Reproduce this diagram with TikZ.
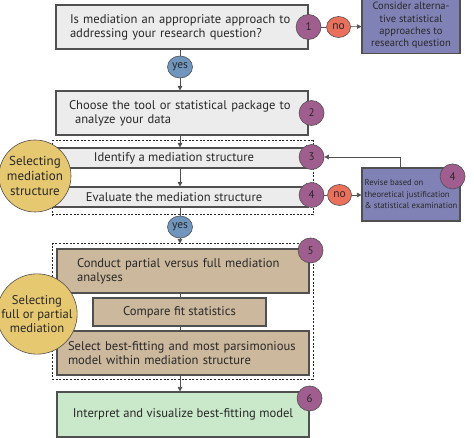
\documentclass[tikz,border=0pt]{standalone}
\usepackage{fontspec}
\setmainfont{PT Sans}
\usetikzlibrary{positioning, arrows.meta, shapes.geometric, fit}

\definecolor{linegray}{RGB}{80,80,80}
\definecolor{inkgray}{RGB}{40,40,40}
\definecolor{boxgray}{RGB}{236,236,236}
\definecolor{boxtan}{RGB}{204,184,156}
\definecolor{boxgreen}{RGB}{202,232,202}
\definecolor{numpurple}{RGB}{160,94,142}
\definecolor{noorange}{RGB}{234,112,92}
\definecolor{yesblue}{RGB}{112,150,190}
\definecolor{altblue}{RGB}{128,130,182}
\definecolor{phaseyellow}{RGB}{230,200,112}

\begin{document}
\begin{tikzpicture}[x=1pt, y=-1pt, >={Triangle[length=4.5pt,width=4.5pt]}, semithick,
    font=\fontsize{12.6}{14}\selectfont, text=inkgray, draw=linegray,
    stepbox/.style={draw=linegray, fill=boxgray, line width=1.1pt, minimum height=44pt, inner ysep=0pt},
    tanbox/.style={stepbox, fill=boxtan},
    numdot/.style={circle, draw=linegray, fill=numpurple, minimum size=25pt, inner sep=0pt, font=\fontsize{11}{12}\selectfont},
    noblob/.style={ellipse, draw=linegray, fill=noorange, minimum width=24pt, minimum height=21pt, inner sep=0pt, font=\fontsize{11.5}{12}\selectfont},
    yesblob/.style={ellipse, draw=linegray, fill=yesblue, minimum width=25pt, minimum height=22pt, inner sep=0pt, font=\fontsize{11.5}{12}\selectfont},
    phase/.style={circle, draw=linegray, fill=phaseyellow, minimum size=72pt, inner sep=0pt, align=center},
    altbox/.style={draw=linegray, fill=altblue, line width=1.1pt, font=\fontsize{10.5}{12.3}\selectfont},
    group/.style={draw=inkgray, line width=1pt, dash pattern=on 2pt off 1.6pt, inner sep=0pt}]
    \useasboundingbox (0,0) rectangle (474,438);

    % Dashed groups behind the steps
    \node[group, fit={(52,141) (313,215)}] (grp1) {};
    \node[group, fit={(52,244) (313,379)}] (grp2) {};

    % Question and the way out
    \node[stepbox, text width=224pt, inner xsep=14pt, align=left] (ask) at (182,27)
        {Is mediation an appropriate approach to\\addressing your research question?};
    \node[altbox, minimum width=98pt, minimum height=56pt, inner sep=0pt, align=center] (consider) at (411,25.5)
        {Consider alterna-\\tive statistical\\approaches to\\research question};
    \node[yesblob] (yes1) at (180,67) {yes};

    % Tool choice
    \node[stepbox, text width=226pt, inner xsep=13pt, align=left] (choose) at (182,113)
        {Choose the tool or statistical package to\\\hspace*{6pt}analyze your data};

    % Selecting mediation structure
    \node[stepbox, minimum width=268pt, minimum height=20pt] (identify) at (174,158)
        {Identify a mediation structure};
    \node[stepbox, minimum width=268pt, minimum height=20pt] (evaluate) at (174,197)
        {Evaluate the mediation structure};
    \node[altbox, minimum width=98pt, inner xsep=1pt, minimum height=53pt, align=left,
        font=\fontsize{8.6}{11.5}\selectfont] (revise) at (411,194.5)
        {Revise based on\\theoretical justification\\\& statistical examination};
    \node[yesblob] (yes2) at (180,227) {yes};

    % Selecting full or partial mediation
    \node[tanbox, text width=212pt, inner xsep=20pt, align=left] (conduct) at (183,271)
        {Conduct partial versus full mediation\\analyses};
    \node[tanbox, minimum width=173pt, minimum height=28pt] (compare) at (179.5,312)
        {Compare fit statistics};
    \node[tanbox, text width=230pt, inner xsep=11pt, align=left] (select) at (183,353)
        {Select best-fitting and most parsimonious\\model within mediation structure};

    % Interpretation
    \node[stepbox, fill=boxgreen, minimum width=252pt, minimum height=45pt] (interpret) at (183,414.5)
        {Interpret and visualize best-fitting model};

    % Phase labels
    \node[phase, font=\fontsize{13}{15}\selectfont] (phase1) at (35,176) {Selecting\\mediation\\structure};
    \node[phase, minimum size=70pt, font=\fontsize{12.6}{14}\selectfont] (phase2) at (37,314) {Selecting\\full or partial\\mediation};

    % Step numbers
    \node[numdot] (n1) at (ask.east) {1};
    \node[numdot] (n2) at ([xshift=3pt]choose.east) {2};
    \node[numdot] (n3) at ([xshift=3pt,yshift=1pt]identify.east) {3};
    \node[numdot] (n4) at ([xshift=3pt,yshift=2pt]evaluate.east) {4};
    \node[numdot] (n4b) at ([xshift=-8pt,yshift=-9pt]revise.north east) {4};
    \node[numdot] (n5) at ([xshift=1pt,yshift=-2pt]conduct.north east) {5};
    \node[numdot] (n6) at ([yshift=-7pt]interpret.north east) {6};

    % No answers
    \node[noblob] (no1) [right of=n1, node distance=30pt] {no};
    \node[noblob] (no2) [right of=n4, node distance=28pt] {no};

    % Main flow
    \draw (yes1 |- ask.south) -- (yes1);
    \draw[->] (yes1) -- (yes1 |- choose.north);
    \draw[->] (yes1 |- choose.south) -- (yes1 |- identify.north);
    \draw[->] (yes1 |- identify.south) -- (yes1 |- evaluate.north);
    \draw (yes1 |- evaluate.south) -- (yes2);
    \draw[->] (yes2) -- (yes2 |- grp2.north);
    \draw (yes2 |- conduct.south) -- (yes2 |- compare.north);
    \draw (yes2 |- compare.south) -- (yes2 |- select.north);
    \draw[->] (yes2 |- select.south) -- (yes2 |- interpret.north);

    % Side branches
    \draw (n1) -- (no1);
    \draw[->] (no1) -- (consider);
    \draw (n4) -- (no2);
    \draw[->] (no2) -- (no2 -| revise.west);
    \draw[->] ([xshift=-11pt]revise.north) |- (n3);
\end{tikzpicture}
\end{document}
